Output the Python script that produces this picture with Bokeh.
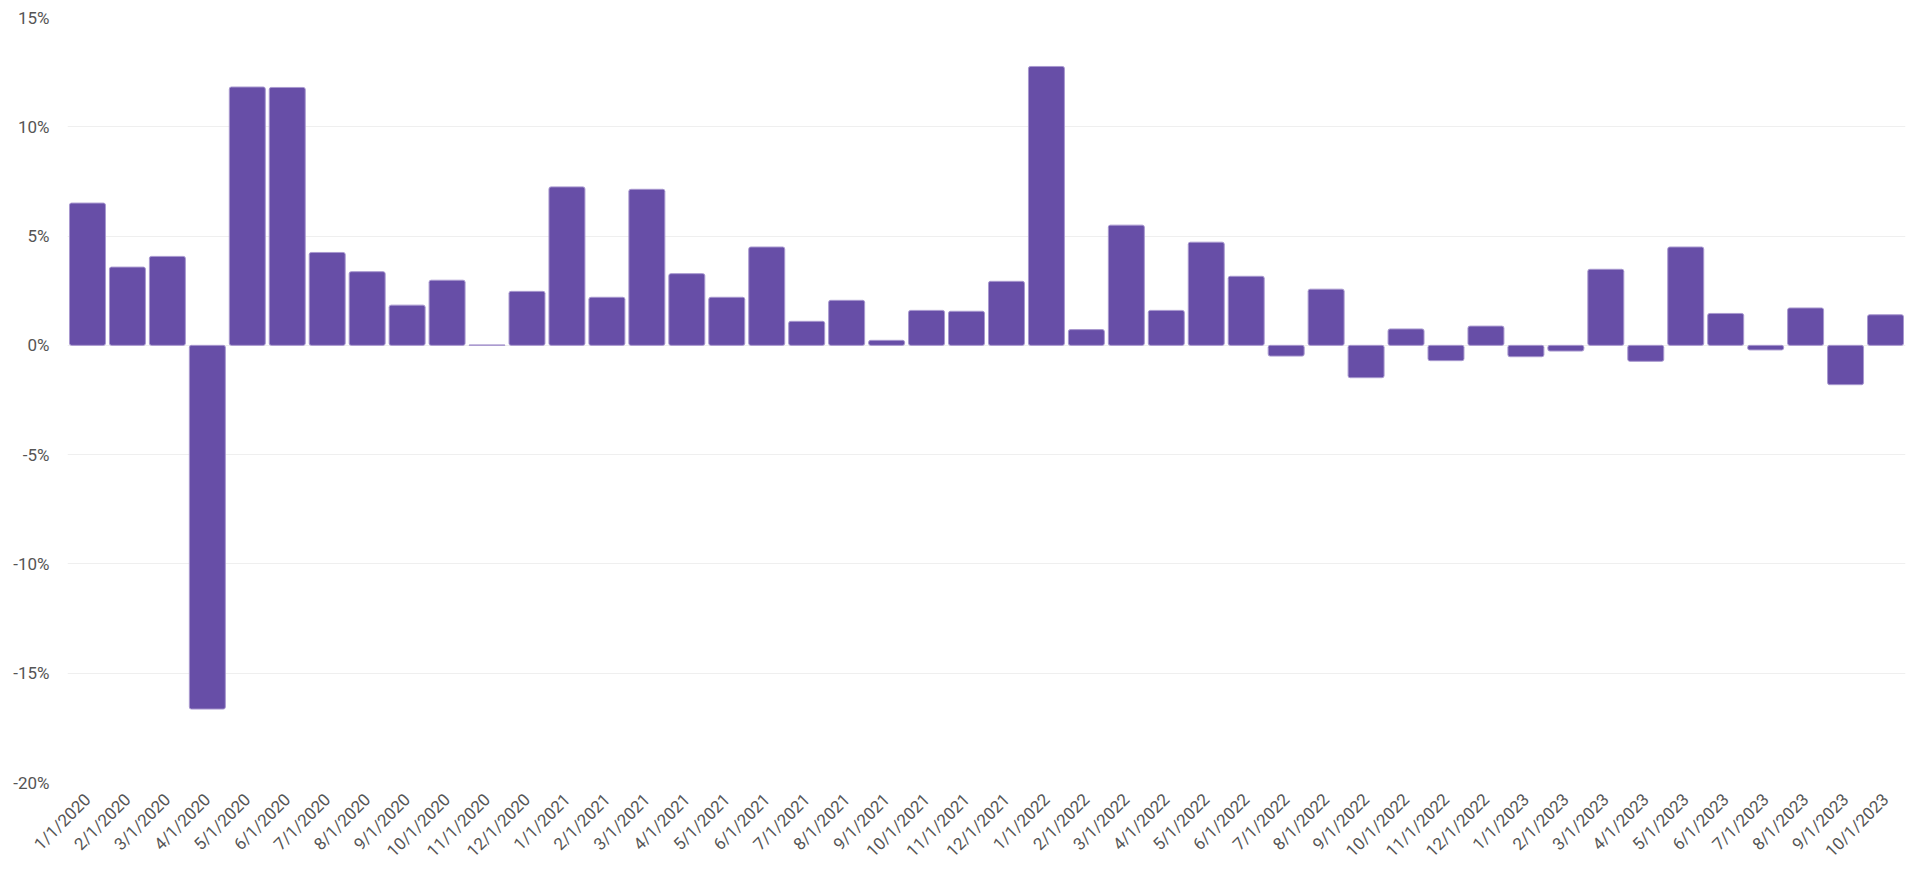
from bokeh.plotting import figure
from bokeh.models import FactorRange, Range1d, FixedTicker, CustomJSTickFormatter, ColumnDataSource
from bokeh.embed import file_html
from bokeh.resources import INLINE
import math

months = [
    "1/1/2020", "2/1/2020", "3/1/2020", "4/1/2020", "5/1/2020", "6/1/2020",
    "7/1/2020", "8/1/2020", "9/1/2020", "10/1/2020", "11/1/2020", "12/1/2020",
    "1/1/2021", "2/1/2021", "3/1/2021", "4/1/2021", "5/1/2021", "6/1/2021",
    "7/1/2021", "8/1/2021", "9/1/2021", "10/1/2021", "11/1/2021", "12/1/2021",
    "1/1/2022", "2/1/2022", "3/1/2022", "4/1/2022", "5/1/2022", "6/1/2022",
    "7/1/2022", "8/1/2022", "9/1/2022", "10/1/2022", "11/1/2022", "12/1/2022",
    "1/1/2023", "2/1/2023", "3/1/2023", "4/1/2023", "5/1/2023", "6/1/2023",
    "7/1/2023", "8/1/2023", "9/1/2023", "10/1/2023",
]

change_pct = [
    6.51, 3.58, 4.07, -16.64, 11.82, 11.80, 4.25, 3.37, 1.84, 2.98, 0.02, 2.47,
    7.25, 2.20, 7.14, 3.28, 2.20, 4.50, 1.10, 2.06, 0.23, 1.60, 1.56, 2.93,
    12.76, 0.72, 5.50, 1.60, 4.72, 3.16, -0.49, 2.57, -1.48, 0.75, -0.70, 0.88,
    -0.52, -0.26, 3.48, -0.73, 4.50, 1.46, -0.21, 1.71, -1.80, 1.40,
]

y_ticks = [-20, -15, -10, -5, 0, 5, 10, 15]

source = ColumnDataSource(data=dict(month=months, value=change_pct))

p = figure(
    width=1920, height=875,
    x_range=FactorRange(*months, range_padding=0),
    y_range=Range1d(-20, 15),
    output_backend="svg", toolbar_location=None,
    min_border_left=67, min_border_right=15, min_border_top=17, min_border_bottom=93,
)
p.outline_line_color = None
p.background_fill_color = "white"
p.border_fill_color = "white"

p.vbar(x="month", top="value", bottom=0, width=0.9, source=source,
       fill_color="#674ea7", line_color="#a898cf", line_width=1,
       border_radius=2)

p.xgrid.grid_line_color = None
p.ygrid.grid_line_color = "#efefef"
p.ygrid.grid_line_width = 1

p.yaxis.ticker = FixedTicker(ticks=y_ticks)
p.yaxis.formatter = CustomJSTickFormatter(code="return tick + '%';")
for ax in (p.xaxis[0], p.yaxis[0]):
    ax.axis_line_color = None
    ax.major_tick_line_color = None
    ax.minor_tick_line_color = None
    ax.major_label_text_font = "Roboto"
    ax.major_label_text_font_size = "17px"
    ax.major_label_text_color = "#555555"

p.yaxis.major_label_standoff = 12
p.xaxis.major_label_orientation = math.pi / 4
p.xaxis.major_label_standoff = 8

open("out.html", "w").write(file_html(p, INLINE))
